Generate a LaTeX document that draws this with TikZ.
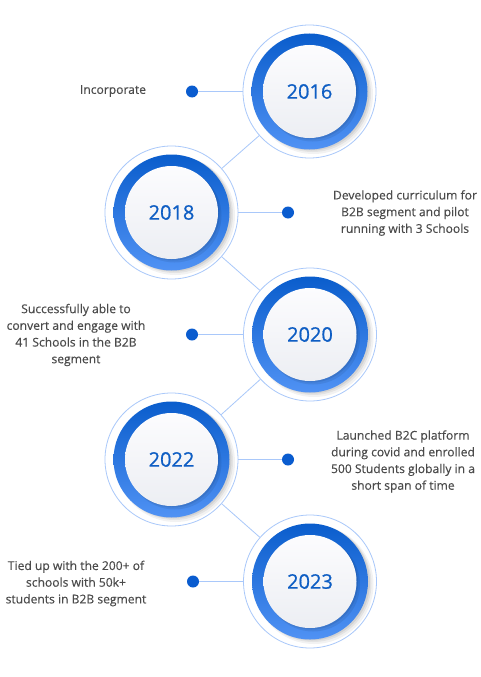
\documentclass[tikz,border=0pt]{standalone}
\usepackage{fontspec}
\setmainfont{Open Sans}
\newfontfamily\yearfont{Open Sans}[FakeBold=0.8]
\newfontfamily\bodyfont{Open Sans}[FakeBold=0.25]
\definecolor{ringA}{HTML}{0A5DCC}
\definecolor{ringB}{HTML}{5092F4}
\definecolor{thinc}{HTML}{A9C8FA}
\definecolor{yeartxt}{HTML}{0F5EC4}
\definecolor{dotc}{HTML}{0A5CCF}
\definecolor{bodytxt}{HTML}{4B4B4B}
\definecolor{diskA}{HTML}{FCFCFE}
\definecolor{diskB}{HTML}{ECEEF3}
\newcommand{\badgebg}[2]{%
  \fill[white] (#1,#2) circle (66.5);
  \fill[black,opacity=0.05] (#1+4,#2+3) circle (59.5);
  \fill[black,opacity=0.06] (#1+3,#2+2) circle (58.5);
  \fill[black,opacity=0.07] (#1+2,#2+1) circle (58);
  \shade[top color=ringA,bottom color=ringB] (#1,#2) circle (58);
  \fill[black,opacity=0.07] (#1+3,#2+3) circle (47);
  \fill[black,opacity=0.08] (#1+1.5,#2+1.5) circle (46.5);
  \shade[top color=diskA,bottom color=diskB] (#1,#2) circle (46.5);
}
\begin{document}
\begin{tikzpicture}[x=1pt,y=-1pt,
  yearcirc/.style={circle,minimum size=133pt,inner sep=0pt,draw=thinc,line width=0.8pt,
    text=yeartxt,font=\yearfont\fontsize{20}{23}\selectfont},
  thinline/.style={draw=thinc,line width=0.8pt},
  dotnode/.style={circle,fill=dotc,minimum size=12pt,inner sep=0pt},
  bodytext/.style={text=bodytxt,align=center,inner sep=0pt,font=\bodyfont\fontsize{12.1}{16.7}\selectfont}]
\useasboundingbox[fill=white] (0,0) rectangle (480,677);

\node[bodytext] (t1) at (113,91) {Incorporate};
\node[bodytext] (t2) at (405,213) {Developed curriculum for\\B2B segment and pilot\\running with 3 Schools};
\node[bodytext] (t3) at (76,335) {Successfully able to\\convert and engage with\\41 Schools in the B2B\\segment};
\node[bodytext] (t4) at (403,461.5) {Launched B2C platform\\during covid and enrolled\\500 Students globally in a\\short span of time};
\node[bodytext] (t5) at (76,583.5) {Tied up with the 200+ of\\schools with 50k+\\students in B2B segment};

\node[dotnode] (d1) at (192,91.5) {};
\node[dotnode] (d2) at (288,212.5) {};
\node[dotnode] (d3) at (192,334.5) {};
\node[dotnode] (d4) at (288,459.5) {};
\node[dotnode] (d5) at (193,581.5) {};

\badgebg{309.5}{91.5}
\node[yearcirc] (y1) at (309.5,91.5) {2016};
\badgebg{171.5}{212.5}
\node[yearcirc] (y2) at (171.5,212.5) {2018};
\badgebg{310}{334.5}
\node[yearcirc] (y3) at (310,334.5) {2020};
\badgebg{171.5}{459.5}
\node[yearcirc] (y4) at (171.5,459.5) {2022};
\badgebg{310}{581.5}
\node[yearcirc] (y5) at (310,581.5) {2023};

\draw[thinline] (y1) -- (y2);
\draw[thinline] (y2) -- (y3);
\draw[thinline] (y3) -- (y4);
\draw[thinline] (y4) -- (y5);
\draw[thinline] (d1) -- (y1);
\draw[thinline] (d2) -- (y2);
\draw[thinline] (d3) -- (y3);
\draw[thinline] (d4) -- (y4);
\draw[thinline] (d5) -- (y5);
\end{tikzpicture}
\end{document}
